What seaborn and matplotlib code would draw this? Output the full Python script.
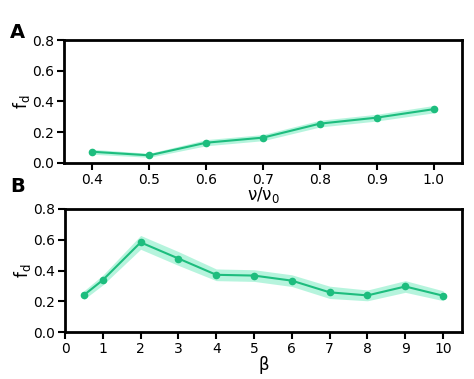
import matplotlib
matplotlib.use("Agg")
import matplotlib.pyplot as plt
import seaborn as sns
import numpy as np
import pandas as pd

# Panel A data
nu_ratio = [0.4, 0.5, 0.6, 0.7, 0.8, 0.9, 1.0]
fd_a = [0.073, 0.050, 0.132, 0.165, 0.256, 0.295, 0.350]
err_a = [0.016, 0.013, 0.020, 0.020, 0.022, 0.022, 0.024]

# Panel B data
beta = [0.5, 1, 2, 3, 4, 5, 6, 7, 8, 9, 10]
fd_b = [0.240, 0.338, 0.583, 0.478, 0.372, 0.367, 0.334, 0.258, 0.238, 0.296, 0.236]
err_b = [0.028, 0.032, 0.045, 0.045, 0.038, 0.038, 0.038, 0.040, 0.035, 0.038, 0.032]

line_color = "#1dbd7e"
band_color = "#5ee8b5"

sns.set_style("ticks")
plt.rcParams['font.family'] = ['DejaVu Sans']
plt.rcParams['text.color'] = 'black'
plt.rcParams['axes.labelcolor'] = 'black'

fig = plt.figure(figsize=(4.74, 3.79), dpi=100)
axA = fig.add_axes([64/474, 1-163/379, 398/474, 123/379])
axB = fig.add_axes([65/474, 1-332/379, 397/474, 123/379])

def draw(ax, x, y, e):
    df = pd.DataFrame({"x": x, "y": y})
    lo = np.array(y) - np.array(e)
    hi = np.array(y) + np.array(e)
    ax.fill_between(x, lo, hi, color=band_color, alpha=0.45, linewidth=0)
    sns.lineplot(data=df, x="x", y="y", ax=ax, color=line_color, marker="o",
                 markersize=5.5, markeredgewidth=0, linewidth=1.5)
    for s in ax.spines.values():
        s.set_linewidth(2)
        s.set_color("black")
    ax.tick_params(width=1.5, length=5, labelsize=10, colors="black", pad=2)
    ax.set_ylim(0, 0.8)
    ax.set_yticks([0, 0.2, 0.4, 0.6, 0.8])
    ax.set_yticklabels(["0.0", "0.2", "0.4", "0.6", "0.8"])

draw(axA, nu_ratio, fd_a, err_a)
axA.set_xlim(0.35, 1.05)
axA.set_xticks(nu_ratio)
axA.set_xticklabels(["0.4", "0.5", "0.6", "0.7", "0.8", "0.9", "1.0"])
axA.set_xlabel(r"$\mathregular{\nu/\nu_0}$", fontsize=12, labelpad=-1)
axA.set_ylabel(r"$\mathregular{f_d}$", fontsize=12, labelpad=0)

draw(axB, beta, fd_b, err_b)
axB.set_xlim(0, 10.5)
axB.set_xticks(list(range(0, 11)))
axB.set_xlabel(r"$\mathregular{\beta}$", fontsize=12, labelpad=-1)
axB.set_ylabel(r"$\mathregular{f_d}$", fontsize=12, labelpad=0)

fig.text(10/474, 1-33/379, "A", fontsize=14, fontweight="bold", ha="left", va="center")
fig.text(10/474, 1-187/379, "B", fontsize=14, fontweight="bold", ha="left", va="center")

fig.savefig("out.png", dpi=100)
